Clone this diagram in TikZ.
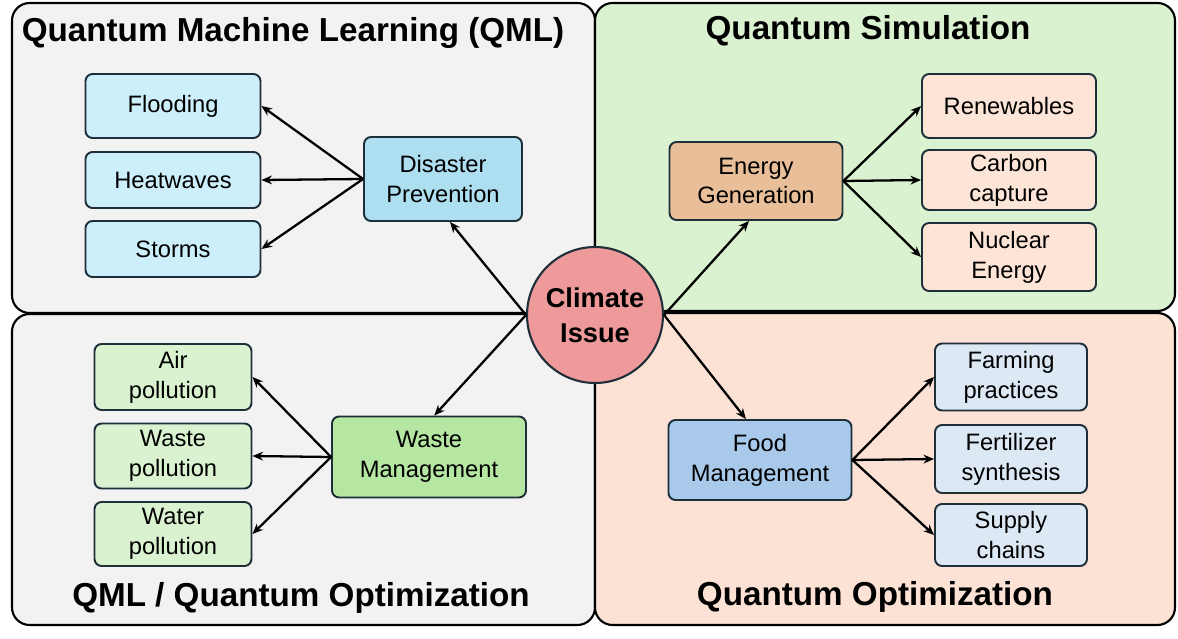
\documentclass[tikz,border=0pt]{standalone}
\usepackage{fontspec}
\setmainfont{Liberation Sans}
\usetikzlibrary{arrows.meta}
\definecolor{pgray}{HTML}{F2F2F2}
\definecolor{pgreen}{HTML}{DAF2D0}
\definecolor{ppeach}{HTML}{FBE2D5}
\definecolor{bord}{HTML}{1F2F3A}
\definecolor{lblue}{HTML}{CDEEFB}
\definecolor{dblue}{HTML}{ADDFF0}
\definecolor{red1}{HTML}{EE9A9A}
\definecolor{tan1}{HTML}{E8BF98}
\definecolor{lpeach}{HTML}{FCE4D6}
\definecolor{lgreen}{HTML}{DAF2D0}
\definecolor{mgreen}{HTML}{B5E6A2}
\definecolor{mblue}{HTML}{A8C9EA}
\definecolor{pblue}{HTML}{DCE9F5}
\begin{document}
\begin{tikzpicture}[x=0.02cm,y=-0.02cm,
  panel/.style={draw=black,line width=1.2pt,rounded corners=10pt},
  ttl/.style={font=\fontsize{18.9}{22}\selectfont\bfseries},
  bx/.style={draw=bord,line width=1.1pt,rounded corners=4pt,align=center,font=\fontsize{13.5}{17}\selectfont,inner sep=0pt},
  arr/.style={-{Stealth[length=6pt,width=5pt]},line width=1.3pt}]
\useasboundingbox (0,0) rectangle (1178,639);
\draw[panel,fill=pgray] (12,3) rectangle (595,313);
\draw[panel,fill=pgray] (12,314) rectangle (595,625);
\draw[panel,fill=pgreen] (595,3) rectangle (1175,311);
\draw[panel,fill=ppeach] (595,313) rectangle (1175,625);
\node[ttl] (t1) at (293,33) {Quantum Machine Learning (QML)};
\node[ttl] (t2) at (868,31) {Quantum Simulation};
\node[ttl] (t3) at (301,598) {QML / Quantum Optimization};
\node[ttl] (t4) at (875,597) {Quantum Optimization};
% left top
\node[bx,fill=lblue,minimum width=3.5cm,minimum height=1.28cm] (fl) at (173,106) {Flooding};
\node[bx,fill=lblue,minimum width=3.5cm,minimum height=1.12cm] (hw) at (173,180) {Heatwaves};
\node[bx,fill=lblue,minimum width=3.5cm,minimum height=1.12cm] (st) at (173,249) {Storms};
\node[bx,fill=dblue,minimum width=3.16cm,minimum height=1.68cm] (dp) at (443,179) {Disaster\\Prevention};
% right top
\node[bx,fill=tan1,minimum width=3.46cm,minimum height=1.56cm] (eg) at (756,181) {Energy\\Generation};
\node[bx,fill=lpeach,minimum width=3.48cm,minimum height=1.28cm] (rn) at (1009,106) {Renewables};
\node[bx,fill=lpeach,minimum width=3.48cm,minimum height=1.2cm] (cc) at (1009,180) {Carbon\\capture};
\node[bx,fill=lpeach,minimum width=3.48cm,minimum height=1.36cm] (ne) at (1009,257) {Nuclear\\Energy};
% left bottom
\node[bx,fill=lgreen,minimum width=3.14cm,minimum height=1.32cm] (ap) at (173,377) {Air\\pollution};
\node[bx,fill=lgreen,minimum width=3.14cm,minimum height=1.3cm] (wp) at (173,456) {Waste\\pollution};
\node[bx,fill=lgreen,minimum width=3.14cm,minimum height=1.28cm] (wtp) at (173,534) {Water\\pollution};
\node[bx,fill=mgreen,minimum width=3.88cm,minimum height=1.62cm] (wm) at (429,457) {Waste\\Management};
% right bottom
\node[bx,fill=mblue,minimum width=3.66cm,minimum height=1.6cm] (fm) at (760,460) {Food\\Management};
\node[bx,fill=pblue,minimum width=3.04cm,minimum height=1.34cm] (fp) at (1011,377) {Farming\\practices};
\node[bx,fill=pblue,minimum width=3.04cm,minimum height=1.36cm] (fs) at (1011,459) {Fertilizer\\synthesis};
\node[bx,fill=pblue,minimum width=3.04cm,minimum height=1.24cm] (sc) at (1011,535) {Supply\\chains};
% center
\node[circle,draw=bord,line width=1.2pt,fill=red1,minimum size=2.72cm,align=center,font=\fontsize{15.5}{20}\selectfont\bfseries,inner sep=0pt] (ci) at (595,315) {Climate\\Issue};
% arrows
\draw[arr] (dp.west) -- (fl.east);
\draw[arr] (dp.west) -- (hw.east);
\draw[arr] (dp.west) -- (st.east);
\draw[arr] (eg.east) -- (rn.west);
\draw[arr] (eg.east) -- (cc.west);
\draw[arr] (eg.east) -- (ne.west);
\draw[arr] (wm.west) -- (ap.east);
\draw[arr] (wm.west) -- (wp.east);
\draw[arr] (wm.west) -- (wtp.east);
\draw[arr] (fm.east) -- (fp.west);
\draw[arr] (fm.east) -- (fs.west);
\draw[arr] (fm.east) -- (sc.west);
\draw[arr] (ci.west) -- ([xshift=4]dp.south);
\draw[arr] (ci.west) -- ([xshift=3]wm.north);
\draw[arr] (ci.east) -- ([xshift=-4]eg.south);
\draw[arr] (ci.east) -- ([xshift=-8]fm.north);
\end{tikzpicture}
\end{document}
